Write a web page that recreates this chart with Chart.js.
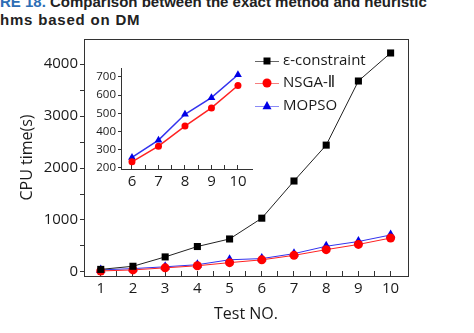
<!DOCTYPE html>
<html>
<head>
<meta charset="utf-8">
<script src="https://cdn.jsdelivr.net/npm/chart.js@4.4.0/dist/chart.umd.min.js"></script>
<style>
  html, body { margin: 0; padding: 0; background: #fff; }
  #wrap { position: relative; width: 474px; height: 333px; overflow: hidden; }
  .cap { position: absolute; left: 0; white-space: nowrap; font: bold 15px "Liberation Sans", Arial, sans-serif; line-height: 18px; color: #222; }
  .cap .fig { color: #2c6db5; }
  #main { position: absolute; left: 0; top: 0; }
  #inset { position: absolute; left: 90px; top: 55px; }
</style>
</head>
<body>
<div id="wrap">
  <div class="cap" style="top:-7px"><span class="fig">RE 18.</span> Comparison between the exact method and heuristic</div>
  <div class="cap" style="top:11px; letter-spacing:0.8px">hms based on DM</div>
  <canvas id="main" width="474" height="333"></canvas>
  <canvas id="inset" width="175" height="140"></canvas>
</div>
<script>
// data
const testNo = [1, 2, 3, 4, 5, 6, 7, 8, 9, 10];
const epsConstraint = [50, 110, 290, 490, 635, 1035, 1750, 2440, 3673, 4212];
const nsga2 = [20, 40, 80, 120, 180, 234, 320, 430, 530, 653];
const mopso = [40, 65, 100, 140, 235, 258, 353, 495, 586, 712];

const insetTests = [6, 7, 8, 9, 10];
const mainYLabels = [0, 1000, 2000, 3000, 4000];
const insetYLabels = [200, 300, 400, 500, 600, 700];

const seriesNames = ['\u03b5-constraint', 'NSGA-\u2161', 'MOPSO'];

const FONT = '"Open Sans", "DejaVu Sans", sans-serif';
const TXT = '#1a1a1a';
const AXIS = '#333';

function pts(xs, ys) {
  return xs.map((x, i) => ({ x: x, y: ys[i] }));
}
function withMinors(majors) {
  const out = [];
  majors.forEach((v, i) => {
    out.push(v);
    if (i < majors.length - 1) out.push((v + majors[i + 1]) / 2);
  });
  return out;
}
function insetSlice(arr) {
  return insetTests.map(t => arr[testNo.indexOf(t)]);
}

// box round the main plot
const boxPlugin = {
  id: 'box',
  afterDraw(chart) {
    const a = chart.chartArea, ctx = chart.ctx;
    ctx.save();
    ctx.strokeStyle = AXIS;
    ctx.lineWidth = 1;
    ctx.strokeRect(Math.round(a.left) + 0.5, Math.round(a.top) + 0.5, Math.round(a.right - a.left), Math.round(a.bottom - a.top));
    ctx.restore();
  }
};

function marker(ctx, style, x, y, r) {
  ctx.beginPath();
  if (style === 'rect') {
    ctx.rect(x - r, y - r, 2 * r, 2 * r);
  } else if (style === 'circle') {
    ctx.arc(x, y, r, 0, Math.PI * 2);
  } else {
    ctx.moveTo(x, y - r * 1.1);
    ctx.lineTo(x + r, y + r * 0.7);
    ctx.lineTo(x - r, y + r * 0.7);
    ctx.closePath();
  }
  ctx.fill();
}

// legend with line sample and marker
const legendPlugin = {
  id: 'lineLegend',
  afterDraw(chart) {
    const ctx = chart.ctx;
    const rows = [61, 83, 106];
    const sizes = [3.5, 4.5, 4.5];
    const lineCols = ['rgba(0,0,0,0.6)', 'rgba(240,40,40,0.6)', 'rgba(60,60,240,0.6)'];
    ctx.save();
    chart.data.datasets.forEach((ds, i) => {
      const y = rows[i];
      ctx.strokeStyle = lineCols[i];
      ctx.lineWidth = 1;
      ctx.beginPath();
      ctx.moveTo(255, y + 0.5);
      ctx.lineTo(279, y + 0.5);
      ctx.stroke();
      ctx.fillStyle = ds.backgroundColor;
      marker(ctx, ds.pointStyle, 267, y, sizes[i]);
      ctx.fillStyle = TXT;
      ctx.font = '15px ' + FONT;
      ctx.textBaseline = 'middle';
      ctx.fillText(ds.label, 283, y);
    });
    ctx.restore();
  }
};

const series = [
  { data: epsConstraint, color: '#000', line: '#222', style: 'rect', r: 5, ri: 0 },
  { data: nsga2, color: '#f00', line: '#f22', style: 'circle', r: 4.5, ri: 3.5 },
  { data: mopso, color: '#0000e6', line: '#33e', style: 'triangle', r: 5.5, ri: 4.5 }
];

new Chart(document.getElementById('main'), {
  type: 'line',
  data: {
    datasets: series.map((s, i) => ({
      label: seriesNames[i],
      data: pts(testNo, s.data),
      borderColor: s.line,
      backgroundColor: s.color,
      borderWidth: 1,
      pointStyle: s.style,
      pointRadius: s.r,
      pointBackgroundColor: s.color,
      pointBorderColor: s.color,
      pointBorderWidth: 0,
      tension: 0
    }))
  },
  options: {
    responsive: false,
    animation: false,
    events: [],
    layout: { padding: { top: 39, right: 66, left: 0, bottom: 0 } },
    plugins: { legend: { display: false }, tooltip: { enabled: false } },
    scales: {
      x: {
        type: 'linear',
        min: 0.48,
        max: 10.54,
        afterFit(s) { s.height = 57; },
        afterBuildTicks(s) { s.ticks = withMinors(testNo).map(v => ({ value: v })); },
        grid: { drawOnChartArea: false, tickLength: -5, color: AXIS },
        border: { color: AXIS, width: 1 },
        ticks: {
          padding: 9, autoSkip: false, maxRotation: 0, color: TXT,
          font: { family: FONT, size: 15 },
          callback: v => (testNo.includes(v) ? String(v) : '')
        },
        title: {
          display: true, text: 'Test NO.', color: TXT,
          font: { family: FONT, size: 16 }, padding: { top: 0, bottom: 9 }
        }
      },
      y: {
        min: -77,
        max: 4481,
        afterFit(s) { s.width = 84; },
        afterBuildTicks(s) { s.ticks = withMinors(mainYLabels).map(v => ({ value: v })); },
        grid: { drawOnChartArea: false, tickLength: 4, color: AXIS },
        border: { color: AXIS, width: 1 },
        ticks: {
          padding: 2, autoSkip: false, color: TXT,
          font: { family: FONT, size: 15 },
          callback: v => (mainYLabels.includes(v) ? String(v) : '')
        },
        title: {
          display: true, text: 'CPU time(s)', color: TXT,
          font: { family: FONT, size: 16 }, padding: { top: 18, bottom: 0 }
        }
      }
    }
  },
  plugins: [boxPlugin, legendPlugin]
});

// zoomed view of the two heuristics for tests 6-10
new Chart(document.getElementById('inset'), {
  type: 'line',
  data: {
    datasets: series.slice(1).map((s, i) => ({
      label: seriesNames[i + 1],
      data: pts(insetTests, insetSlice(s.data)),
      borderColor: s.line,
      backgroundColor: s.color,
      borderWidth: 1.5,
      pointStyle: s.style,
      pointRadius: s.ri,
      pointBackgroundColor: s.color,
      pointBorderColor: s.color,
      pointBorderWidth: 0,
      tension: 0
    }))
  },
  options: {
    responsive: false,
    animation: false,
    events: [],
    layout: { padding: { top: 13, right: 13, left: 0, bottom: 0 } },
    plugins: { legend: { display: false }, tooltip: { enabled: false } },
    scales: {
      x: {
        type: 'linear',
        min: 5.585,
        max: 10.53,
        afterFit(s) { s.height = 26; },
        afterBuildTicks(s) { s.ticks = withMinors(insetTests).map(v => ({ value: v })); },
        grid: { drawOnChartArea: false, tickLength: -4, color: AXIS },
        border: { color: AXIS, width: 1 },
        ticks: {
          padding: 8, autoSkip: false, maxRotation: 0, color: TXT,
          font: { family: FONT, size: 15 },
          callback: v => (insetTests.includes(v) ? String(v) : '')
        }
      },
      y: {
        min: 194.5,
        max: 749,
        afterFit(s) { s.width = 31; },
        afterBuildTicks(s) { s.ticks = insetYLabels.map(v => ({ value: v })); },
        grid: { drawOnChartArea: false, tickLength: 3, color: AXIS },
        border: { color: AXIS, width: 1 },
        ticks: {
          padding: 2, autoSkip: false, color: TXT,
          font: { family: FONT, size: 11.5 }
        }
      }
    }
  }
});
</script>
</body>
</html>
